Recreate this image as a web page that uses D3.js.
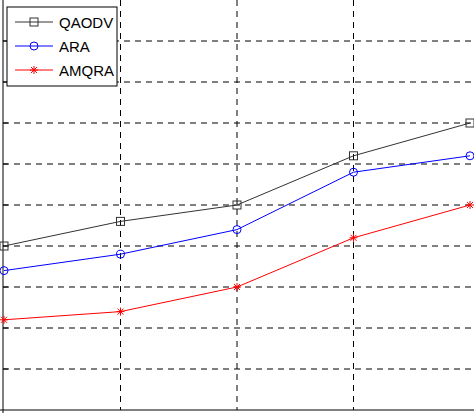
<!DOCTYPE html><html><head><script src="https://cdn.jsdelivr.net/npm/d3@7"></script>
<style>body{margin:0;background:#fff}</style></head><body><svg id="c" width="474" height="413"></svg><script>
const xCats=[1,2,3,4,5];
const yTicks=[1,2,3,4,5,6,7,8,9];
const qaodv=[4.0,4.6,5.0,6.2,7.0];
const ara=[3.4,3.8,4.4,5.8,6.2];
const amqra=[2.2,2.4,3.0,4.2,5.0];
const series=[{name:"QAODV",v:qaodv,c:"#333",m:"sq"},{name:"ARA",v:ara,c:"#0000ff",m:"ci"},{name:"AMQRA",v:amqra,c:"#ff0000",m:"st"}];
const svg=d3.select("#c");
const x=d3.scaleLinear().domain([1,5]).range([4,470]);
const y=d3.scaleLinear().domain([0,10]).range([410,0]);
const g=svg.append("g");
xCats.slice(1,4).forEach(d=>g.append("line").attr("x1",x(d)).attr("x2",x(d)).attr("y1",0).attr("y2",410).attr("stroke","#000").attr("stroke-dasharray","6,5"));
yTicks.forEach(d=>g.append("line").attr("x1",3).attr("x2",474).attr("y1",y(d)).attr("y2",y(d)).attr("stroke","#000").attr("stroke-dasharray","6,5"));
g.append("line").attr("x1",3).attr("x2",3).attr("y1",0).attr("y2",413).attr("stroke","#000");
g.append("line").attr("x1",0).attr("x2",474).attr("y1",410).attr("y2",410).attr("stroke","#000");
yTicks.forEach(d=>g.append("line").attr("x1",3).attr("x2",8).attr("y1",y(d)).attr("y2",y(d)).attr("stroke","#000"));
function marker(sel,m,c,px,py){
 if(m=="sq")sel.append("rect").attr("x",px-4).attr("y",py-4).attr("width",8).attr("height",8).attr("fill","none").attr("stroke",c);
 else if(m=="ci")sel.append("circle").attr("cx",px).attr("cy",py).attr("r",4).attr("fill","none").attr("stroke",c);
 else{[[0,4],[4,0],[3,3],[3,-3]].forEach(([a,b])=>sel.append("line").attr("x1",px-a).attr("x2",px+a).attr("y1",py-b).attr("y2",py+b).attr("stroke",c));}
}
const line=d3.line().x((d,i)=>x(xCats[i])).y(d=>y(d));
series.forEach(s=>{
 g.append("path").attr("d",line(s.v)).attr("fill","none").attr("stroke",s.c).attr("stroke-width",1);
 s.v.forEach((d,i)=>marker(g,s.m,s.c,x(xCats[i]),y(d)));
});
const L=svg.append("g");
L.append("rect").attr("x",7).attr("y",7).attr("width",110).attr("height",79).attr("fill","#fff").attr("stroke","#000");
series.forEach((s,i)=>{const yy=22+i*24;
 L.append("line").attr("x1",15).attr("x2",53).attr("y1",yy).attr("y2",yy).attr("stroke",s.c);
 marker(L,s.m,s.c,34,yy);
 L.append("text").attr("x",59).attr("y",yy+6).text(s.name).attr("font-family","Liberation Sans, Arial").attr("font-size",15).attr("fill","#000");
});
</script></body></html>
